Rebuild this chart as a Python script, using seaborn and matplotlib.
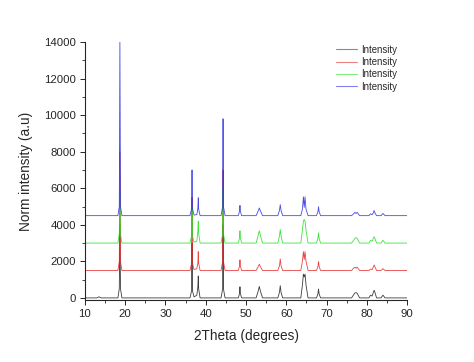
import matplotlib
matplotlib.use("Agg")
import matplotlib.pyplot as plt
import seaborn as sns
import pandas as pd
from matplotlib.ticker import MultipleLocator
from matplotlib.lines import Line2D

# shared 2-theta sampling points (degrees)
two_theta = [10, 13.0, 13.5, 14.0,
             18.2, 18.55, 18.7, 18.85, 19.2,
             36.1, 36.5, 36.6, 36.7, 37.1,
             37.8, 38.05, 38.15, 38.25, 38.6,
             43.8, 44.2, 44.3, 44.4, 44.8,
             48.1, 48.4, 48.5, 48.6, 48.9,
             52.5, 53.0, 53.3, 53.6, 54.1,
             57.9, 58.3, 58.5, 58.7, 59.1,
             63.6, 64.0, 64.25, 64.45, 64.65, 64.9, 65.4,
             67.5, 67.85, 68.0, 68.15, 68.5,
             76.2, 76.8, 77.05, 77.3, 77.6, 78.2,
             80.5, 80.9, 81.3, 81.6, 81.8, 82.0, 82.4,
             83.5, 84.0, 84.5, 90]

# intensities (a.u.) of each pattern at those points
black = [0, 0, 60, 0,
         0, 500, 4000, 500, 0,
         0, 400, 3000, 400, 50,
         150, 600, 1200, 500, 0,
         0, 500, 4000, 500, 0,
         0, 250, 610, 250, 0,
         0, 350, 630, 350, 0,
         0, 300, 670, 300, 0,
         0, 700, 1300, 1150, 1300, 700, 0,
         0, 220, 490, 220, 0,
         0, 200, 270, 290, 250, 0,
         0, 150, 100, 300, 420, 300, 0,
         0, 150, 0, 0]

red = [1500, 1500, 1500, 1500,
       1500, 2000, 8000, 2000, 1500,
       1500, 1900, 5500, 1900, 1550,
       1600, 1900, 2530, 1900, 1500,
       1500, 2000, 7000, 2000, 1500,
       1500, 1750, 2080, 1750, 1500,
       1500, 1700, 1845, 1700, 1500,
       1500, 1750, 2130, 1750, 1500,
       1500, 2000, 2530, 2100, 2530, 2000, 1500,
       1500, 1720, 1990, 1720, 1500,
       1500, 1650, 1680, 1620, 1680, 1500,
       1500, 1580, 1550, 1700, 1800, 1700, 1500,
       1500, 1600, 1500, 1500]

green = [3000, 3000, 3000, 3000,
         3000, 3500, 6000, 3500, 3000,
         3000, 3400, 5000, 3400, 3050,
         3100, 3650, 4200, 3550, 3000,
         3000, 3500, 6000, 3500, 3000,
         3000, 3300, 3670, 3300, 3000,
         3000, 3400, 3670, 3400, 3000,
         3000, 3380, 3740, 3380, 3000,
         3000, 3700, 4200, 4290, 4200, 3700, 3000,
         3000, 3260, 3560, 3260, 3000,
         3000, 3180, 3250, 3300, 3250, 3000,
         3000, 3150, 3100, 3250, 3350, 3250, 3000,
         3000, 3150, 3000, 3000]

blue = [4500, 4500, 4500, 4500,
        4500, 5000, 14000, 5000, 4500,
        4500, 4900, 7000, 4900, 4530,
        4560, 4900, 5480, 4850, 4500,
        4500, 5000, 9800, 5000, 4500,
        4500, 4750, 5060, 4750, 4500,
        4500, 4750, 4920, 4750, 4500,
        4500, 4780, 5100, 4780, 4500,
        4500, 4850, 5530, 4950, 5530, 4850, 4500,
        4500, 4720, 4990, 4720, 4500,
        4500, 4620, 4680, 4620, 4680, 4500,
        4500, 4600, 4550, 4650, 4780, 4650, 4500,
        4500, 4620, 4500, 4500]

series_names = ["Intensity", "Intensity", "Intensity", "Intensity"]
series_values = [black, red, green, blue]
series_colors = ["#1a1a1a", "#e52222", "#18e018", "#2a2ae0"]
legend_colors = ["#8a8a8a", "#f08080", "#80f080", "#8080f0"]

x_ticks = [10, 20, 30, 40, 50, 60, 70, 80, 90]
y_ticks = [0, 2000, 4000, 6000, 8000, 10000, 12000, 14000]

sns.set_style("ticks")
plt.rcParams["font.family"] = ["Liberation Sans", "DejaVu Sans"]

fig = plt.figure(figsize=(4.74, 3.62), dpi=100)
ax = fig.add_axes([0.179, 0.171, 0.680, 0.713])

for vals, col in zip(series_values, series_colors):
    df = pd.DataFrame({"2Theta": two_theta, "I": vals})
    sns.lineplot(data=df, x="2Theta", y="I", ax=ax, color=col,
                 linewidth=0.6, estimator=None, sort=False, alpha=0.85)

ax.set_xlim(10, 90)
ax.set_ylim(-120, 14000)
ax.set_xticks(x_ticks)
ax.set_yticks(y_ticks)
ax.xaxis.set_minor_locator(MultipleLocator(5))
ax.yaxis.set_minor_locator(MultipleLocator(1000))
ax.tick_params(axis="both", which="major", direction="out", length=3.5,
               width=0.7, labelsize=8.2, pad=3)
ax.tick_params(axis="both", which="minor", direction="out", length=2,
               width=0.6)
for s in ["top", "right"]:
    ax.spines[s].set_visible(False)
for s in ["left", "bottom"]:
    ax.spines[s].set_linewidth(0.8)

ax.set_xlabel("2Theta (degrees)", fontsize=9.8, labelpad=7)
ax.set_ylabel("Norm intensity (a.u)", fontsize=9.8, labelpad=8)

handles = [Line2D([0], [0], color=c, linewidth=0.8) for c in legend_colors]
leg = ax.legend(handles, series_names, loc="upper left", frameon=False,
                fontsize=6.9, handlelength=2.2, handletextpad=0.4,
                labelspacing=0.25, bbox_to_anchor=(0.762, 1.012),
                borderaxespad=0.2)

fig.savefig("out.png", dpi=100)
